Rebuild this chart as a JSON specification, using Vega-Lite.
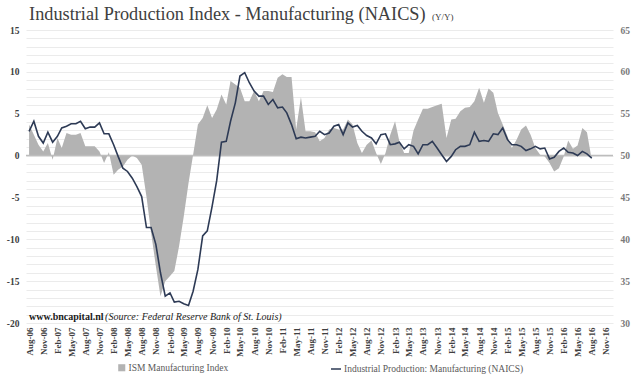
{
"$schema": "https://vega.github.io/schema/vega-lite/v6.json",
"width": 587, "height": 293,
"autosize": {"type": "none"},
"padding": {"left": 26, "top": 30, "right": 27, "bottom": 56},
"background": "white",
"config": {"view": {"stroke": null}},
"data": {"values": [
{"month":"2006-08-01","ip":2.9,"ism":53.7},{"month":"2006-09-01","ip":4.1,"ism":52.5},{"month":"2006-10-01","ip":2.3,"ism":51.3},{"month":"2006-11-01","ip":1.5,"ism":50.5},{"month":"2006-12-01","ip":2.8,"ism":51.5},
{"month":"2007-01-01","ip":1.6,"ism":49.5},{"month":"2007-02-01","ip":2.3,"ism":52.1},{"month":"2007-03-01","ip":3.3,"ism":50.9},{"month":"2007-04-01","ip":3.5,"ism":52.7},{"month":"2007-05-01","ip":3.8,"ism":52.5},{"month":"2007-06-01","ip":3.8,"ism":52.5},{"month":"2007-07-01","ip":4.1,"ism":52.7},{"month":"2007-08-01","ip":3.2,"ism":51.1},{"month":"2007-09-01","ip":3.4,"ism":51.1},{"month":"2007-10-01","ip":3.4,"ism":51.1},{"month":"2007-11-01","ip":3.9,"ism":50.5},{"month":"2007-12-01","ip":2.6,"ism":49.1},
{"month":"2008-01-01","ip":2.6,"ism":50.4},{"month":"2008-02-01","ip":1.3,"ism":47.7},{"month":"2008-03-01","ip":-0.1,"ism":48.3},{"month":"2008-04-01","ip":-1.5,"ism":48.7},{"month":"2008-05-01","ip":-1.9,"ism":49.5},{"month":"2008-06-01","ip":-2.7,"ism":50.0},{"month":"2008-07-01","ip":-3.7,"ism":49.7},{"month":"2008-08-01","ip":-4.9,"ism":48.9},{"month":"2008-09-01","ip":-8.6,"ism":45.1},{"month":"2008-10-01","ip":-8.6,"ism":40.8},{"month":"2008-11-01","ip":-10.6,"ism":36.8},{"month":"2008-12-01","ip":-14.0,"ism":33.2},
{"month":"2009-01-01","ip":-16.8,"ism":35.0},{"month":"2009-02-01","ip":-16.4,"ism":35.6},{"month":"2009-03-01","ip":-17.5,"ism":36.2},{"month":"2009-04-01","ip":-17.4,"ism":39.2},{"month":"2009-05-01","ip":-17.7,"ism":42.7},{"month":"2009-06-01","ip":-17.9,"ism":46.7},{"month":"2009-07-01","ip":-16.2,"ism":50.1},{"month":"2009-08-01","ip":-13.6,"ism":53.7},{"month":"2009-09-01","ip":-9.6,"ism":54.5},{"month":"2009-10-01","ip":-9.0,"ism":56.0},{"month":"2009-11-01","ip":-6.1,"ism":54.5},{"month":"2009-12-01","ip":-3.0,"ism":55.5},
{"month":"2010-01-01","ip":1.6,"ism":57.3},{"month":"2010-02-01","ip":1.7,"ism":56.1},{"month":"2010-03-01","ip":4.1,"ism":58.9},{"month":"2010-04-01","ip":6.3,"ism":58.5},{"month":"2010-05-01","ip":9.5,"ism":58.1},{"month":"2010-06-01","ip":9.9,"ism":56.5},{"month":"2010-07-01","ip":8.7,"ism":56.5},{"month":"2010-08-01","ip":7.7,"ism":57.7},{"month":"2010-09-01","ip":7.1,"ism":56.5},{"month":"2010-10-01","ip":7.1,"ism":57.7},{"month":"2010-11-01","ip":6.1,"ism":57.7},{"month":"2010-12-01","ip":6.7,"ism":57.6},
{"month":"2011-01-01","ip":5.7,"ism":59.3},{"month":"2011-02-01","ip":5.8,"ism":59.7},{"month":"2011-03-01","ip":5.1,"ism":59.4},{"month":"2011-04-01","ip":3.7,"ism":59.4},{"month":"2011-05-01","ip":2.0,"ism":53.1},{"month":"2011-06-01","ip":2.2,"ism":57.0},{"month":"2011-07-01","ip":2.1,"ism":52.9},{"month":"2011-08-01","ip":2.2,"ism":52.9},{"month":"2011-09-01","ip":2.3,"ism":52.8},{"month":"2011-10-01","ip":2.9,"ism":51.7},{"month":"2011-11-01","ip":2.5,"ism":52.1},{"month":"2011-12-01","ip":2.7,"ism":53.1},
{"month":"2012-01-01","ip":3.5,"ism":53.3},{"month":"2012-02-01","ip":3.7,"ism":53.1},{"month":"2012-03-01","ip":2.5,"ism":53.1},{"month":"2012-04-01","ip":3.9,"ism":54.3},{"month":"2012-05-01","ip":3.4,"ism":53.7},{"month":"2012-06-01","ip":3.6,"ism":51.5},{"month":"2012-07-01","ip":2.9,"ism":50.3},{"month":"2012-08-01","ip":2.4,"ism":51.3},{"month":"2012-09-01","ip":2.1,"ism":51.8},{"month":"2012-10-01","ip":1.4,"ism":50.3},{"month":"2012-11-01","ip":2.5,"ism":49.0},{"month":"2012-12-01","ip":2.6,"ism":50.3},
{"month":"2013-01-01","ip":1.3,"ism":52.5},{"month":"2013-02-01","ip":1.4,"ism":54.1},{"month":"2013-03-01","ip":1.6,"ism":51.7},{"month":"2013-04-01","ip":0.8,"ism":50.3},{"month":"2013-05-01","ip":1.3,"ism":50.3},{"month":"2013-06-01","ip":1.1,"ism":53.0},{"month":"2013-07-01","ip":0.2,"ism":54.3},{"month":"2013-08-01","ip":1.3,"ism":55.6},{"month":"2013-09-01","ip":1.3,"ism":55.6},{"month":"2013-10-01","ip":1.7,"ism":55.8},{"month":"2013-11-01","ip":0.9,"ism":56.0},{"month":"2013-12-01","ip":0.1,"ism":56.2},
{"month":"2014-01-01","ip":-0.7,"ism":52.1},{"month":"2014-02-01","ip":-0.1,"ism":54.3},{"month":"2014-03-01","ip":0.7,"ism":54.4},{"month":"2014-04-01","ip":1.1,"ism":55.3},{"month":"2014-05-01","ip":1.1,"ism":55.7},{"month":"2014-06-01","ip":1.3,"ism":55.8},{"month":"2014-07-01","ip":2.8,"ism":56.5},{"month":"2014-08-01","ip":1.7,"ism":58.1},{"month":"2014-09-01","ip":1.8,"ism":56.3},{"month":"2014-10-01","ip":1.7,"ism":58.0},{"month":"2014-11-01","ip":2.6,"ism":57.5},{"month":"2014-12-01","ip":2.5,"ism":55.1},
{"month":"2015-01-01","ip":3.3,"ism":53.7},{"month":"2015-02-01","ip":1.9,"ism":52.3},{"month":"2015-03-01","ip":1.3,"ism":50.9},{"month":"2015-04-01","ip":1.3,"ism":51.9},{"month":"2015-05-01","ip":1.1,"ism":53.1},{"month":"2015-06-01","ip":0.6,"ism":53.6},{"month":"2015-07-01","ip":0.8,"ism":52.5},{"month":"2015-08-01","ip":1.1,"ism":50.9},{"month":"2015-09-01","ip":0.8,"ism":50.1},{"month":"2015-10-01","ip":0.9,"ism":49.9},{"month":"2015-11-01","ip":-0.4,"ism":49.1},{"month":"2015-12-01","ip":-0.2,"ism":48.1},
{"month":"2016-01-01","ip":0.5,"ism":48.5},{"month":"2016-02-01","ip":0.9,"ism":49.9},{"month":"2016-03-01","ip":0.4,"ism":51.8},{"month":"2016-04-01","ip":0.3,"ism":50.8},{"month":"2016-05-01","ip":0.0,"ism":51.2},{"month":"2016-06-01","ip":0.5,"ism":53.3},{"month":"2016-07-01","ip":0.2,"ism":52.8},{"month":"2016-08-01","ip":-0.3,"ism":49.5}
]},
"encoding": {
  "x": {"field": "month", "type": "temporal",
    "scale": {"type": "utc", "domain": ["2006-07-12", "2016-12-17"]},
    "axis": {"title": null, "domain": false, "ticks": false, "grid": false,
      "tickCount": {"interval": "month", "step": 1},
      "labelExpr": "utcmonth(datum.value) % 3 === 1 ? utcFormat(datum.value, '%b-%y') : ''",
      "labelOverlap": false, "labelAngle": 270, "labelAlign": "right", "labelBaseline": "middle",
      "labelPadding": 4, "labelFont": "Liberation Serif", "labelFontWeight": "bold", "labelFontSize": 9, "labelColor": "#404040"}}
},
"layer": [
  {
    "mark": {"type": "line", "strokeWidth": 0, "opacity": 0},
    "encoding": {
      "y": {"field": "ip", "type": "quantitative",
        "scale": {"domain": [-20, 15], "nice": false, "zero": false},
        "axis": {"orient": "left", "title": null,
          "values": [-20,-19,-18,-17,-16,-15,-14,-13,-12,-11,-10,-9,-8,-7,-6,-5,-4,-3,-2,-1,0,1,2,3,4,5,6,7,8,9,10,11,12,13,14,15],
          "labelExpr": "datum.value % 5 === 0 ? '' + datum.value : ''",
          "labelOverlap": false, "grid": true, "gridColor": "#ebebeb", "gridWidth": 1, "domain": false, "ticks": false,
          "labelPadding": 7, "labelFont": "Liberation Serif", "labelFontWeight": "bold", "labelFontSize": 9.5, "labelColor": "#404040"}}
    }
  },
  {
    "mark": {"type": "area", "interpolate": "linear", "strokeWidth": 0},
    "encoding": {
      "y": {"field": "ism", "type": "quantitative",
        "scale": {"domain": [30, 65], "nice": false, "zero": false},
        "axis": {"orient": "right", "title": null, "values": [30,35,40,45,50,55,60,65], "grid": false, "domain": false, "ticks": false,
          "labelPadding": 7, "labelFont": "Liberation Serif", "labelFontWeight": "bold", "labelFontSize": 9.5, "labelColor": "#7a7a7a"}},
      "y2": {"datum": 50},
      "fill": {"datum": "ISM Manufacturing Index", "type": "nominal",
        "scale": {"range": ["#b3b3b3"]},
        "legend": {"title": null, "orient": "none", "legendX": 91, "legendY": 333, "padding": 0,
          "symbolType": "square", "symbolSize": 50, "symbolStrokeWidth": 0,
          "labelFont": "Liberation Serif", "labelFontSize": 9.5, "labelColor": "#595959", "labelOffset": 2}}
    }
  },
  {
    "transform": [{"filter": "datum.ip === 2.9 && datum.ism === 53.7"}],
    "mark": {"type": "rule", "color": "#bdbdbd", "strokeWidth": 1.5},
    "encoding": {"x": null, "y": {"datum": 0, "scale": {"domain": [-20, 15], "nice": false, "zero": false}, "axis": null}}
  },
  {
    "mark": {"type": "line", "strokeWidth": 1.6, "interpolate": "linear"},
    "encoding": {
      "y": {"field": "ip", "type": "quantitative",
        "scale": {"domain": [-20, 15], "nice": false, "zero": false}, "axis": null},
      "stroke": {"datum": "Industrial Production: Manufacturing (NAICS)", "type": "nominal",
        "scale": {"range": ["#2d3a55"]},
        "legend": {"title": null, "orient": "none", "legendX": 304, "legendY": 333, "padding": 0,
          "symbolType": "stroke", "symbolSize": 100, "symbolStrokeWidth": 1.5, "labelLimit": 400,
          "labelFont": "Liberation Serif", "labelFontSize": 9.5, "labelColor": "#595959", "labelOffset": 2}}
    }
  },
  {
    "transform": [{"filter": "datum.ip === 2.9 && datum.ism === 53.7"}],
    "mark": {"type": "text", "font": "Liberation Serif", "fontWeight": "bold", "fontSize": 10, "color": "#1a1a1a", "align": "left", "baseline": "alphabetic"},
    "encoding": {
      "y": {"datum": -19.7, "scale": {"domain": [-20, 15], "nice": false, "zero": false}, "axis": null},
      "text": {"value": "www.bncapital.nl"}
    }
  },
  {
    "transform": [{"filter": "datum.ip === 2.9 && datum.ism === 53.7"}],
    "mark": {"type": "text", "font": "Liberation Serif", "fontStyle": "italic", "fontSize": 10, "color": "#1a1a1a", "align": "left", "baseline": "alphabetic", "dx": 76},
    "encoding": {
      "y": {"datum": -19.7, "scale": {"domain": [-20, 15], "nice": false, "zero": false}, "axis": null},
      "text": {"value": "(Source: Federal Reserve Bank of St. Louis)"}
    }
  },
  {
    "transform": [{"filter": "datum.ip === 2.9 && datum.ism === 53.7"}],
    "mark": {"type": "text", "font": "Liberation Serif", "fontSize": 18.3, "color": "#404040", "align": "left", "baseline": "alphabetic"},
    "encoding": {
      "y": {"datum": 16.2, "scale": {"domain": [-20, 15], "nice": false, "zero": false}, "axis": null},
      "text": {"value": "Industrial Production Index - Manufacturing (NAICS)"}
    }
  },
  {
    "transform": [{"filter": "datum.ip === 2.9 && datum.ism === 53.7"}],
    "mark": {"type": "text", "font": "Liberation Serif", "fontSize": 9, "color": "#404040", "align": "left", "baseline": "alphabetic", "dx": 403},
    "encoding": {
      "y": {"datum": 16.2, "scale": {"domain": [-20, 15], "nice": false, "zero": false}, "axis": null},
      "text": {"value": "(Y/Y)"}
    }
  }
],
"resolve": {"scale": {"y": "independent"}}
}
